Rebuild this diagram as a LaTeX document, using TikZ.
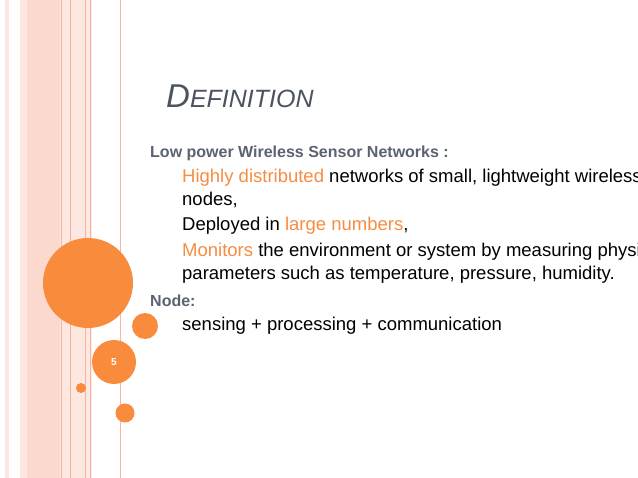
\documentclass[tikz,border=0pt]{standalone}
\usepackage{fontspec}
\setmainfont{Liberation Sans}
\begin{document}
\begin{tikzpicture}[x=1pt,y=-1pt,
  dot/.style={circle,fill=dotor,inner sep=0pt},
  body/.style={anchor=west,inner sep=0pt,font=\fontsize{18.5}{22}\selectfont,text=black},
  head/.style={anchor=west,inner sep=0pt,font=\bfseries\fontsize{16}{18}\selectfont,text=headgray}]
\definecolor{dotor}{HTML}{F98B3C}
\definecolor{pink1}{HTML}{FCD9CE}
\definecolor{pink2}{HTML}{FDE8E1}
\definecolor{pinkline}{HTML}{F7B5A0}
\definecolor{headgray}{HTML}{5B6270}
\definecolor{titlegray}{HTML}{4B5260}
\definecolor{accent}{HTML}{F58D42}
\clip (0,0) rectangle (638,478);
\useasboundingbox (0,0) rectangle (638,478);
\fill[white] (0,0) rectangle (638,478);
\fill[pink2] (5,0) rectangle (9,478);
\fill[pink2] (20,0) rectangle (27,478);
\fill[pink1] (27,0) rectangle (60,478);
\fill[pink2] (60,0) rectangle (92,478);
\foreach \x in {61,70,85,90} \draw[pinkline,line width=0.8] (\x,0) -- (\x,478);
\draw[pinkline,line width=1] (120,0) -- (120,478);
\node[dot,minimum size=90] (c1) at (88,283) {};
\node[dot,minimum size=26] (c2) at (145,326) {};
\node[dot,minimum size=44,text=white,font=\bfseries\fontsize{10}{12}\selectfont] (c3) at (114,362) {5};
\node[dot,minimum size=10] (c4) at (81,388) {};
\node[dot,minimum size=19] (c5) at (125,413) {};
\node[anchor=base west,inner sep=0pt,text=titlegray,font=\itshape] (title) at (166,108)
  {{\fontsize{33}{35}\selectfont D}{\fontsize{25}{27}\selectfont EFINITION}};
\node[head] (h1) at (150,153) {Low power Wireless Sensor Networks :};
\node[body] (l1) at (182,178) {\textcolor{accent}{Highly distributed} networks of small, lightweight wireless};
\node[body] (l2) at (182,200) {nodes,};
\node[body] (l3) at (182,226) {Deployed in \textcolor{accent}{large numbers},};
\node[body] (l4) at (182,252) {\textcolor{accent}{Monitors} the environment or system by measuring physical};
\node[body] (l5) at (182,275) {parameters such as temperature, pressure, humidity.};
\node[head] (h2) at (150,301) {Node:};
\node[body] (l6) at (182,326) {sensing + processing + communication};
\end{tikzpicture}
\end{document}
